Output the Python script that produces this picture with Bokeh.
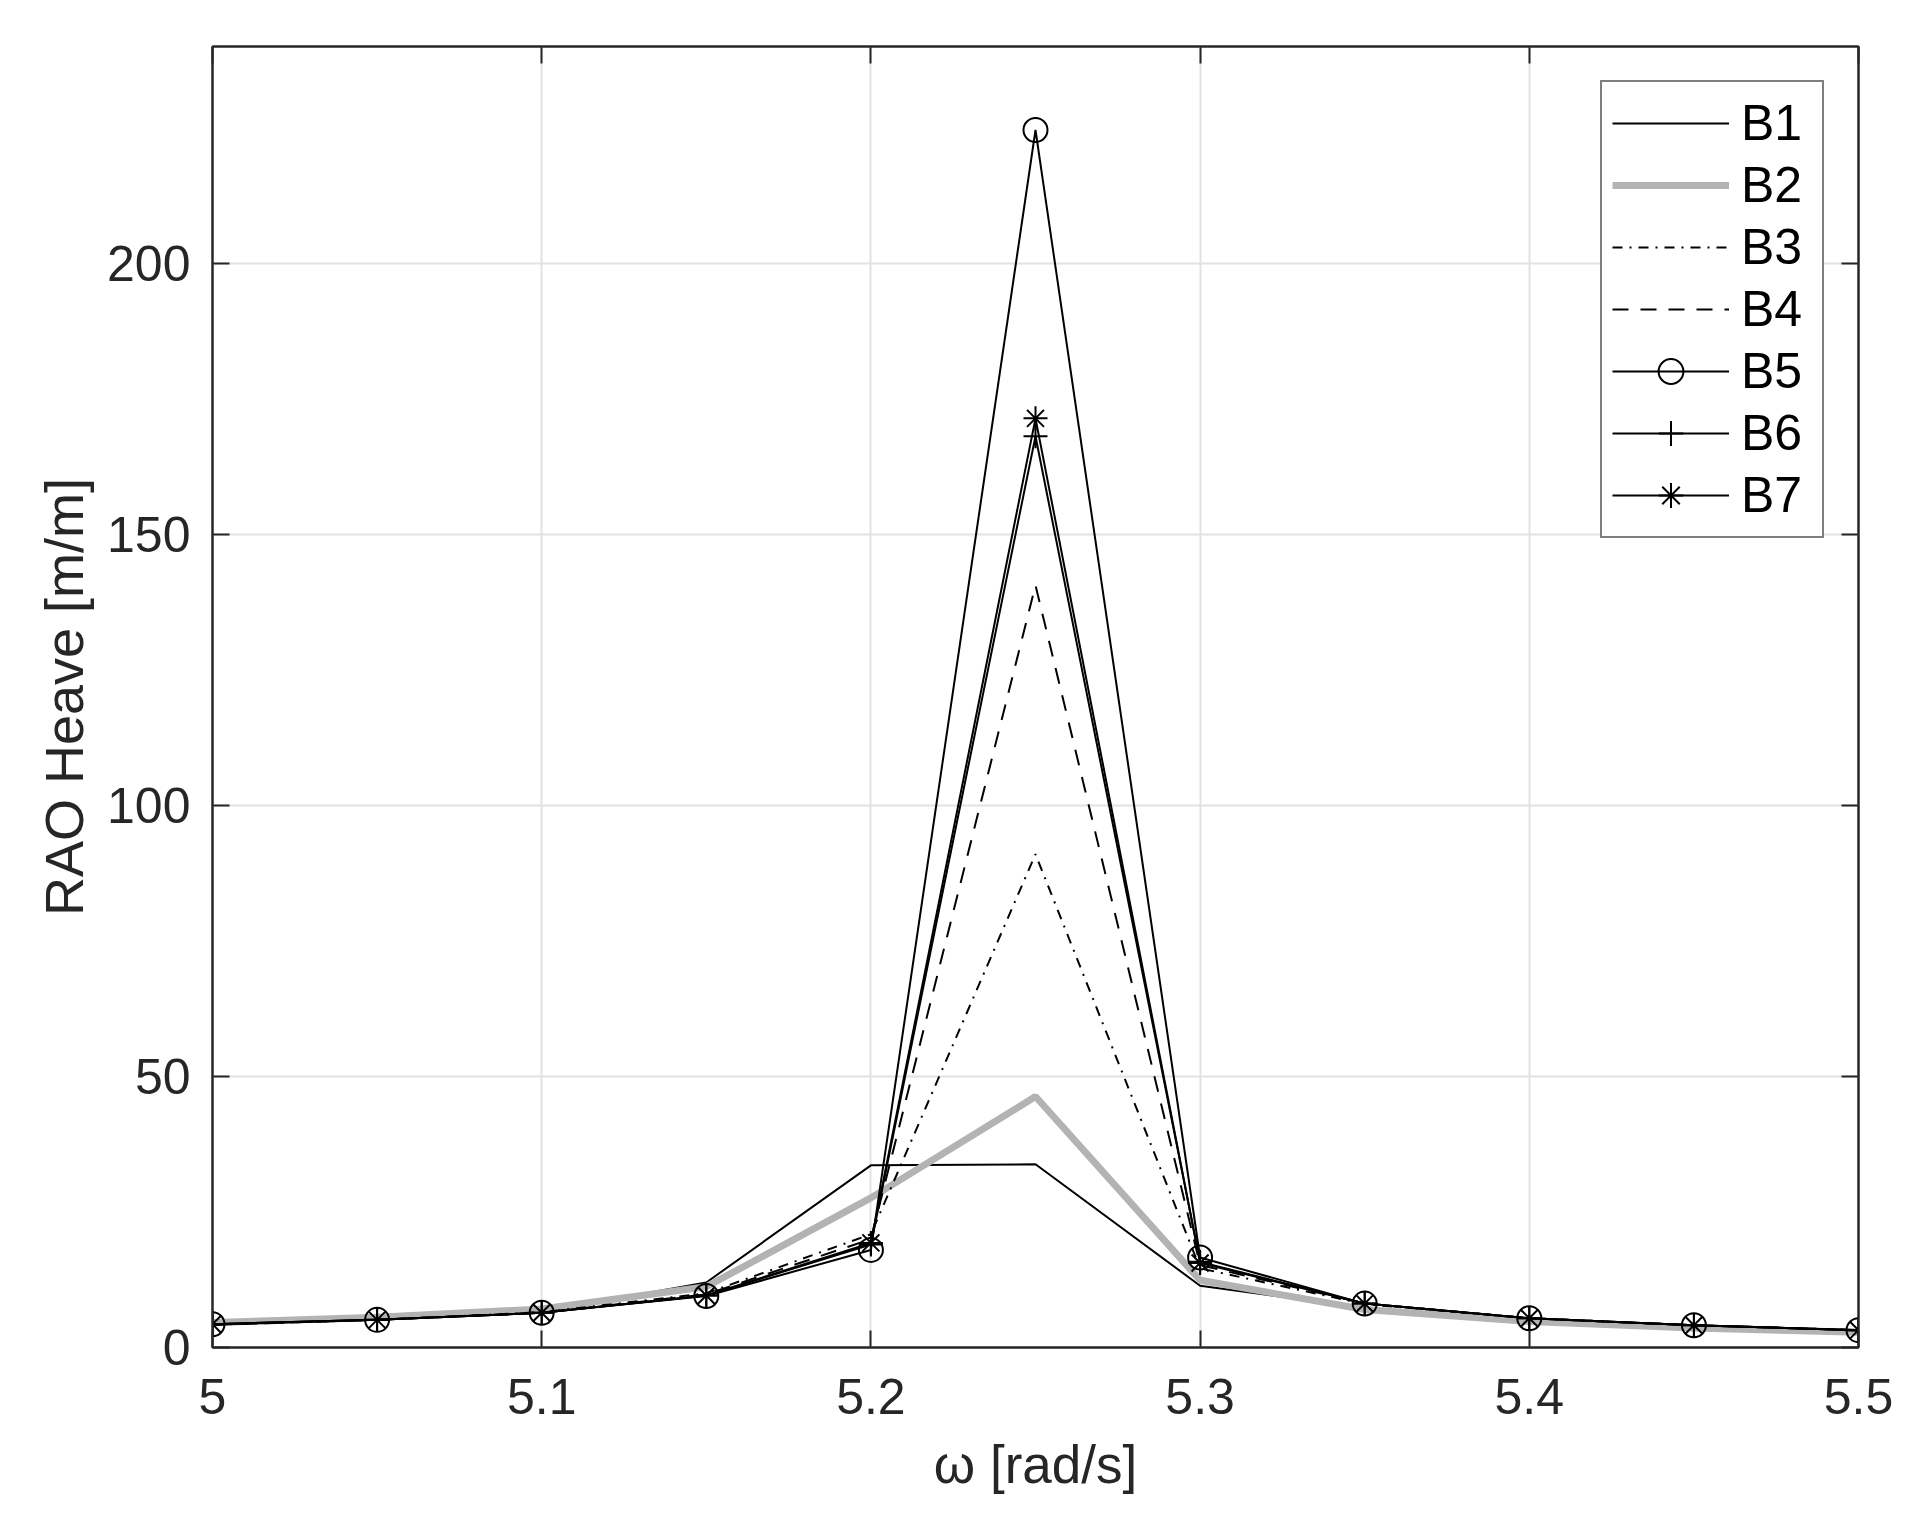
from bokeh.plotting import figure
from bokeh.models import (Range1d, FixedTicker, LinearAxis, Legend, LegendItem,
                          CustomJSTickFormatter)
from bokeh.embed import file_html
from bokeh.resources import INLINE

# ---- data ----
omega = [5.00, 5.05, 5.10, 5.15, 5.20, 5.25, 5.30, 5.35, 5.40, 5.45, 5.50]
B1 = [4.2, 5.1, 6.6, 12.0, 33.6, 33.8, 11.4, 7.3, 5.1, 3.8, 2.9]
B2 = [4.6, 5.6, 7.1, 11.2, 27.6, 46.3, 12.4, 7.0, 4.8, 3.6, 2.8]
B3 = [4.2, 5.1, 6.5, 10.0, 20.9, 91.0, 14.6, 8.0, 5.4, 4.1, 3.2]
B4 = [4.2, 5.1, 6.4, 9.8, 20.0, 140.6, 15.2, 8.1, 5.4, 4.1, 3.2]
B5 = [4.3, 5.1, 6.4, 9.5, 18.0, 224.6, 16.6, 8.1, 5.4, 4.1, 3.2]
B6 = [4.3, 5.1, 6.4, 9.6, 19.0, 168.1, 15.8, 8.1, 5.4, 4.1, 3.2]
B7 = [4.3, 5.1, 6.4, 9.6, 19.3, 171.4, 15.6, 8.1, 5.4, 4.1, 3.2]
series_names = ["B1", "B2", "B3", "B4", "B5", "B6", "B7"]
x_ticks = [5.0, 5.1, 5.2, 5.3, 5.4, 5.5]
y_ticks = [0, 50, 100, 150, 200]
y_label = "RAO Heave [m/m]"
x_label = "ω [rad/s]"

AX = "#262626"
FONT = "Liberation Sans"

p = figure(width=1900, height=1519, output_backend="svg", toolbar_location=None,
           x_range=Range1d(5.0, 5.5), y_range=Range1d(0, 240),
           min_border_left=212, min_border_right=42, min_border_top=46,
           min_border_bottom=172)
p.background_fill_color = "white"
p.border_fill_color = "white"
p.outline_line_color = AX
p.outline_line_width = 2

fmt_x = CustomJSTickFormatter(code="return tick.toFixed(1).replace(/\\.0$/, '')")

def style_axis(ax, show_labels):
    ax.axis_line_color = AX
    ax.axis_line_width = 2
    ax.major_tick_line_color = AX
    ax.major_tick_line_width = 2
    ax.major_tick_in = 17
    ax.major_tick_out = 0
    ax.minor_tick_line_color = None
    if show_labels:
        ax.major_label_text_font = FONT
        ax.major_label_text_font_size = "50px"
        ax.major_label_text_color = AX
    else:
        ax.major_label_text_font_size = "1px"
        ax.major_label_text_color = None
        ax.major_label_standoff = 0

# main axes
xa = p.xaxis[0]
xa.ticker = FixedTicker(ticks=x_ticks)
xa.formatter = fmt_x
style_axis(xa, True)
xa.major_label_standoff = 31
xa.axis_label = x_label
xa.axis_label_text_font = FONT
xa.axis_label_text_font_size = "53px"
xa.axis_label_text_font_style = "normal"
xa.axis_label_text_color = AX
xa.axis_label_standoff = 18

ya = p.yaxis[0]
ya.ticker = FixedTicker(ticks=y_ticks)
style_axis(ya, True)
ya.major_label_standoff = 22
ya.axis_label = y_label
ya.axis_label_text_font = FONT
ya.axis_label_text_font_size = "54px"
ya.axis_label_text_font_style = "normal"
ya.axis_label_text_color = AX
ya.axis_label_standoff = 10

# box axes (top / right)
top = LinearAxis(ticker=FixedTicker(ticks=x_ticks))
style_axis(top, False)
p.add_layout(top, "above")
right = LinearAxis(ticker=FixedTicker(ticks=y_ticks))
style_axis(right, False)
p.add_layout(right, "right")

# grid
p.xgrid.ticker = FixedTicker(ticks=x_ticks)
p.ygrid.ticker = FixedTicker(ticks=y_ticks)
for g in (p.xgrid, p.ygrid):
    g.grid_line_color = "#e2e2e2"
    g.grid_line_width = 2

# series
items = []
r1 = p.line(omega, B1, line_color="black", line_width=2)
items.append(LegendItem(label="B1", renderers=[r1]))
r2 = p.line(omega, B2, line_color="#b3b3b3", line_width=7)
items.append(LegendItem(label="B2", renderers=[r2]))
r3 = p.line(omega, B3, line_color="black", line_width=2, line_dash="10 7 2 7")
items.append(LegendItem(label="B3", renderers=[r3]))
r4 = p.line(omega, B4, line_color="black", line_width=2, line_dash="16 12")
items.append(LegendItem(label="B4", renderers=[r4]))
for name, vals, mk in (("B5", B5, "circle"), ("B6", B6, "cross"), ("B7", B7, "asterisk")):
    rl = p.line(omega, vals, line_color="black", line_width=2)
    rm = p.scatter(omega, vals, marker=mk, size=24, fill_color=None,
                   line_color="black", line_width=2)
    items.append(LegendItem(label=name, renderers=[rl, rm]))

legend = Legend(items=items, location="top_right", margin=34, padding=10,
                spacing=0, label_height=62, glyph_height=62, glyph_width=117,
                label_width=71, label_standoff=12,
                label_text_font=FONT, label_text_font_size="50px",
                label_text_color="black", label_text_baseline="middle",
                border_line_color="black", border_line_width=2.5,
                background_fill_color="white", background_fill_alpha=1.0)
p.add_layout(legend)

open("out.html", "w").write(file_html(p, INLINE))
